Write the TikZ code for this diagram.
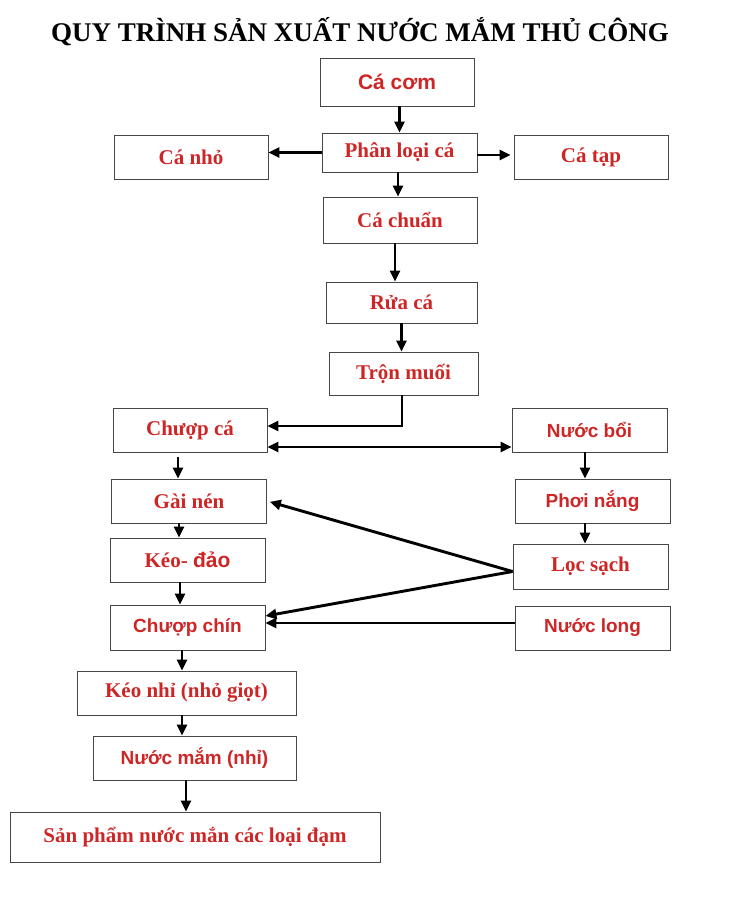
\documentclass[tikz,border=0pt]{standalone}
\usepackage{fontspec}
\setmainfont{Liberation Serif}
\setsansfont{Liberation Sans}
\usetikzlibrary{arrows.meta}
\definecolor{labelred}{RGB}{206,38,38}
\definecolor{boxline}{RGB}{70,70,70}
\tikzset{
  stepbox/.style={draw=boxline, line width=0.9pt, rectangle, inner sep=0pt, text=labelred, font=\bfseries\fontsize{21}{24}\selectfont},
  sansbox/.style={stepbox, font=\sffamily\bfseries\fontsize{19}{22}\selectfont},
  flow/.style={line width=2.9pt, -{Triangle[length=11pt,width=10pt]}},
}
\begin{document}
\begin{tikzpicture}[x=1pt,y=-1pt]
                \useasboundingbox (0,0) rectangle (741,900);
                
                % Title
                \node (title) at (360,32) {\bfseries\fontsize{27}{30}\selectfont QUY TRÌNH SẢN XUẤT NƯỚC MẮM THỦ CÔNG};%
                
                % Drawing boxes of the main column
                \node [stepbox, minimum width=154pt, minimum height=48pt, font=\sffamily\bfseries\fontsize{21}{24}\selectfont] (cacom) at (397,82) {Cá cơm};%
                \node [stepbox, minimum width=155pt, minimum height=39pt] (phanloai) at (399.5,152.5) {Phân loại cá};%
                \node [stepbox, minimum width=154pt, minimum height=44pt] (canho) at (191,157) {Cá nhỏ};%
                \node [stepbox, minimum width=154pt, minimum height=44pt] (catap) at (591,157) {Cá tạp};%
                \node [stepbox, minimum width=154pt, minimum height=46pt] (cachuan) at (400,220) {Cá chuẩn};%
                \node [stepbox, minimum width=151pt, minimum height=41pt] (ruaca) at (401.5,302.5) {Rửa cá};%
                \node [stepbox, minimum width=149pt, minimum height=43pt] (tronmuoi) at (403.5,373.5) {Trộn muối};%
                
                % Drawing boxes of the left column
                \node [stepbox, minimum width=154pt, minimum height=44pt] (chuopca) at (190,430) {Chượp cá};%
                \node [stepbox, minimum width=155pt, minimum height=44pt] (gainen) at (189,501) {Gài nén};%
                \node [stepbox, minimum width=155pt, minimum height=44pt] (keodao) at (187.5,560) {Kéo- {\sffamily đảo}};%
                \node [sansbox, minimum width=155pt, minimum height=45pt] (chuopchin) at (187.5,627.5) {Chượp chín};%
                \node [stepbox, minimum width=219pt, minimum height=44pt] (keonhi) at (186.5,693) {Kéo nhỉ (nhỏ giọt)};%
                \node [sansbox, minimum width=203pt, minimum height=44pt] (nuocmam) at (194.5,758) {Nước mắm (nhỉ)};%
                \node [stepbox, minimum width=370pt, minimum height=50pt] (sanpham) at (195,837) {Sản phẩm nước mắn các loại đạm};%
                
                % Drawing boxes of the right column
                \node [sansbox, minimum width=155pt, minimum height=44pt] (nuocboi) at (589.5,430) {Nước bổi};%
                \node [sansbox, minimum width=155pt, minimum height=44pt] (phoinang) at (592.5,501) {Phơi nắng};%
                \node [stepbox, minimum width=155pt, minimum height=45pt] (locsach) at (590.5,566.5) {Lọc sạch};%
                \node [sansbox, minimum width=155pt, minimum height=44pt] (nuoclong) at (592.5,628) {Nước long};%
                
                % Drawing arrows of the main column
                \draw [flow] (phanloai.north |- cacom.south) -- (phanloai.north);%
                \draw [flow] (phanloai.west) -- (phanloai.west -| canho.east);%
                \draw [flow, shorten >=3pt] ([yshift=-2.5pt]phanloai.east) -- ([yshift=-2.5pt]phanloai.east -| catap.west);%
                \draw [flow] ([xshift=-1.5pt]phanloai.south) -- ([xshift=-1.5pt]phanloai.south |- cachuan.north);%
                \draw [flow] ([xshift=-5pt]cachuan.south) -- ([xshift=-5pt]cachuan.south |- ruaca.north);%
                \draw [flow] (ruaca.south) -- (ruaca.south |- tronmuoi.north);%
                \draw [flow] ([xshift=-1.5pt]tronmuoi.south) |- ([yshift=4pt]chuopca.east);%
                \draw [flow, {Triangle[length=11pt,width=10pt]}-{Triangle[length=11pt,width=10pt]}] ([yshift=-17pt]chuopca.east) -- ([yshift=-17pt]chuopca.east -| nuocboi.west);%
                
                % Drawing arrows of the left column
                \draw [flow, shorten <=5pt] ([xshift=-12pt]chuopca.south) -- ([xshift=-12pt]chuopca.south |- gainen.north);%
                \draw [flow] ([xshift=-10pt]gainen.south) -- ([xshift=-10pt]gainen.south |- keodao.north);%
                \draw [flow] ([xshift=-7.5pt]keodao.south) -- ([xshift=-7.5pt]keodao.south |- chuopchin.north);%
                \draw [flow] ([xshift=-5.5pt]chuopchin.south) -- ([xshift=-5.5pt]chuopchin.south |- keonhi.north);%
                \draw [flow] ([xshift=-4.5pt]keonhi.south) -- ([xshift=-4.5pt]keonhi.south |- nuocmam.north);%
                \draw [flow] ([xshift=-8.5pt]nuocmam.south) -- ([xshift=-8.5pt]nuocmam.south |- sanpham.north);%
                
                % Drawing arrows of the right column
                \draw [flow] ([xshift=-4.5pt]nuocboi.south) -- ([xshift=-4.5pt]nuocboi.south |- phoinang.north);%
                \draw [flow] ([xshift=-7.5pt]phoinang.south) -- ([xshift=-7.5pt]phoinang.south |- locsach.north);%
                \draw [flow, shorten >=3pt] ([yshift=-5pt]locsach.west) -- (gainen.east);%
                \draw [flow] ([yshift=-5pt]locsach.west) -- ([yshift=11.5pt]chuopchin.east);%
                \draw [flow] ([yshift=5pt]nuoclong.west) -- ([yshift=5pt]nuoclong.west -| chuopchin.east);%
\end{tikzpicture}
\end{document}
